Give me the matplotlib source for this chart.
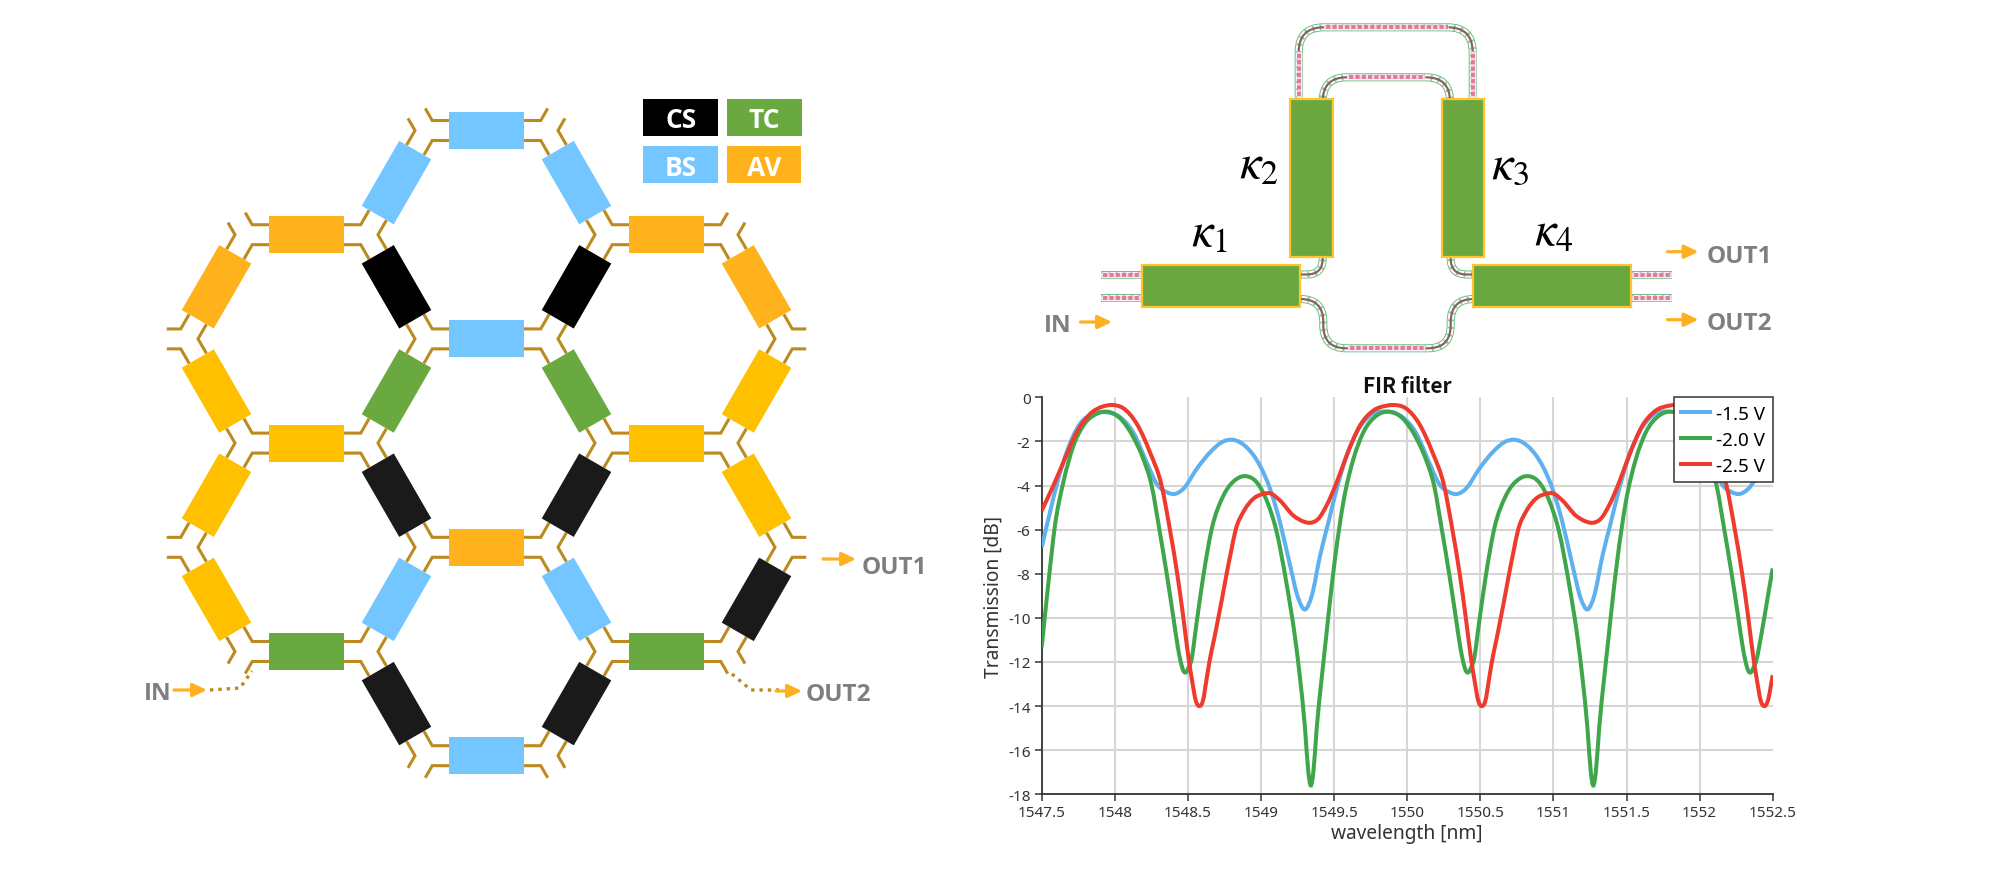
import numpy as np
import matplotlib
matplotlib.use("Agg")
import matplotlib.pyplot as plt
from matplotlib.lines import Line2D
from matplotlib.patches import Polygon, Rectangle, PathPatch
from matplotlib.path import Path

plt.rcParams["font.family"] = ["Noto Sans", "DejaVu Sans"]
plt.rcParams["axes.unicode_minus"] = False
plt.rcParams["mathtext.fontset"] = "stix"
BOLD_FONT = ["Open Sans", "Noto Sans CJK SC", "DejaVu Sans"]

# transmission curves: wavelength [nm], transmission [dB]
blue_wl = [1547.5, 1547.557, 1547.607, 1547.67, 1547.762, 1547.853, 1547.945, 1548.036, 1548.127, 1548.218,
           1548.287, 1548.355, 1548.412, 1548.469, 1548.56, 1548.651, 1548.743, 1548.811, 1548.902, 1548.993,
           1549.062, 1549.13, 1549.199, 1549.256, 1549.301, 1549.347, 1549.404, 1549.461, 1549.518, 1549.586,
           1549.655, 1549.746, 1549.86, 1549.968, 1550.059, 1550.15, 1550.219, 1550.287, 1550.344, 1550.401,
           1550.492, 1550.583, 1550.675, 1550.743, 1550.834, 1550.925, 1550.994, 1551.062, 1551.131, 1551.188,
           1551.233, 1551.279, 1551.336, 1551.393, 1551.45, 1551.518, 1551.587, 1551.678, 1551.792, 1551.9,
           1551.991, 1552.082, 1552.151, 1552.219, 1552.276, 1552.333, 1552.424, 1552.5]
blue_db = [-6.8, -5.2, -3.86, -2.5, -1.2, -0.76, -0.68, -0.9, -1.6, -2.95,
           -3.93, -4.3, -4.38, -4.15, -3.25, -2.5, -2.0, -1.93, -2.27, -3.1,
           -4.15, -5.67, -7.63, -9.14, -9.62, -9.0, -7.18, -5.67, -4.15, -2.64,
           -1.59, -0.83, -0.65, -0.9, -1.6, -2.95, -3.93, -4.3, -4.38, -4.15,
           -3.25, -2.5, -2.0, -1.93, -2.27, -3.1, -4.15, -5.67, -7.63, -9.14,
           -9.62, -9.0, -7.18, -5.67, -4.15, -2.64, -1.59, -0.83, -0.65, -0.9,
           -1.6, -2.95, -3.93, -4.3, -4.38, -4.15, -3.25, -2.6]

green_wl = [1547.5, 1547.546, 1547.591, 1547.648, 1547.717, 1547.785, 1547.876, 1547.945, 1548.036, 1548.127,
            1548.195, 1548.252, 1548.305, 1548.355, 1548.401, 1548.428, 1548.451, 1548.469, 1548.487, 1548.505,
            1548.521, 1548.56, 1548.606, 1548.663, 1548.743, 1548.834, 1548.902, 1548.97, 1549.039, 1549.107,
            1549.176, 1549.233, 1549.267, 1549.301, 1549.324, 1549.34, 1549.358, 1549.381, 1549.415, 1549.445,
            1549.461, 1549.506, 1549.563, 1549.632, 1549.7, 1549.791, 1549.871,
            1549.968, 1550.059, 1550.127, 1550.184, 1550.237, 1550.287, 1550.333, 1550.36, 1550.383, 1550.401,
            1550.419, 1550.437, 1550.453, 1550.492, 1550.538, 1550.595, 1550.675, 1550.766, 1550.834, 1550.902,
            1550.971, 1551.039, 1551.108, 1551.165, 1551.199, 1551.233, 1551.256, 1551.272, 1551.29, 1551.313,
            1551.347, 1551.377, 1551.393, 1551.438, 1551.495, 1551.564, 1551.632, 1551.723, 1551.803,
            1551.9, 1551.991, 1552.059, 1552.116, 1552.169, 1552.219, 1552.265, 1552.292, 1552.315, 1552.333,
            1552.351, 1552.369, 1552.385, 1552.424, 1552.47, 1552.5]
green_db = [-11.33, -8.4, -5.8, -3.85, -2.2, -1.28, -0.75, -0.65, -0.95, -1.81,
            -2.8, -4, -6, -8, -10, -11.2, -12, -12.4, -12.47, -12.25,
            -12, -10.2, -8.08, -5.97, -4.46, -3.7, -3.58, -3.85, -4.68, -6.1,
            -8.5, -10.9, -12.74, -15, -17, -17.6, -17, -15, -12.74, -10.9,
            -9.9, -7.33, -4.76, -2.8, -1.59, -0.83, -0.65,
            -0.95, -1.81, -2.8, -4, -6, -8, -10, -11.2, -12, -12.4,
            -12.47, -12.25, -12, -10.2, -8.08, -5.97, -4.46, -3.7, -3.58, -3.85,
            -4.68, -6.1, -8.5, -10.9, -12.74, -15, -17, -17.6, -17, -15,
            -12.74, -10.9, -9.9, -7.33, -4.76, -2.8, -1.59, -0.83, -0.65,
            -0.95, -1.81, -2.8, -4, -6, -8, -10, -11.2, -12, -12.4,
            -12.47, -12.25, -12, -10.7, -8.9, -7.76]

red_wl = [1547.5, 1547.58, 1547.648, 1547.739, 1547.83, 1547.922, 1547.979, 1548.059, 1548.15, 1548.241,
          1548.32, 1548.377, 1548.427, 1548.469, 1548.508, 1548.526, 1548.556, 1548.578, 1548.601, 1548.632,
          1548.647, 1548.678, 1548.708, 1548.737, 1548.765, 1548.795, 1548.827, 1548.879, 1548.948, 1549.016,
          1549.062, 1549.13, 1549.221, 1549.29, 1549.335, 1549.392, 1549.449, 1549.518, 1549.586, 1549.677,
          1549.769, 1549.86, 1549.905, 1549.991, 1550.082, 1550.173, 1550.252, 1550.309, 1550.359, 1550.401,
          1550.44, 1550.458, 1550.488, 1550.51, 1550.533, 1550.564, 1550.579, 1550.61, 1550.64, 1550.669,
          1550.697, 1550.727, 1550.759, 1550.811, 1550.88, 1550.948, 1550.994, 1551.062, 1551.153, 1551.222,
          1551.267, 1551.324, 1551.381, 1551.45, 1551.518, 1551.609, 1551.701, 1551.792, 1551.837, 1551.923,
          1552.014, 1552.105, 1552.184, 1552.241, 1552.291, 1552.333, 1552.372, 1552.39, 1552.42, 1552.442,
          1552.465, 1552.5]
red_db = [-5.14, -4, -2.95, -1.59, -0.76, -0.41, -0.35, -0.5, -1.2, -2.5,
          -4, -6, -8, -10, -12, -12.74, -13.8, -14, -13.8, -12.6,
          -12, -11, -10, -9, -8, -7, -6, -5.2, -4.6, -4.38,
          -4.35, -4.68, -5.36, -5.63, -5.69, -5.51, -4.9, -3.85, -2.64, -1.28,
          -0.6, -0.38, -0.35, -0.5, -1.2, -2.5, -4, -6, -8, -10,
          -12, -12.74, -13.8, -14, -13.8, -12.6, -12, -11, -10, -9,
          -8, -7, -6, -5.2, -4.6, -4.38, -4.35, -4.68, -5.36, -5.63,
          -5.69, -5.51, -4.9, -3.85, -2.64, -1.28, -0.6, -0.38, -0.35, -0.5,
          -1.2, -2.5, -4, -6, -8, -10, -12, -12.74, -13.8, -14,
          -13.8, -12.6]

series_labels = ["-1.5 V", "-2.0 V", "-2.5 V"]
x_ticks = [1547.5, 1548, 1548.5, 1549, 1549.5, 1550, 1550.5, 1551, 1551.5, 1552, 1552.5]
x_tick_labels = ["1547.5", "1548", "1548.5", "1549", "1549.5", "1550", "1550.5", "1551", "1551.5", "1552", "1552.5"]
y_ticks = [0, -2, -4, -6, -8, -10, -12, -14, -16, -18]

# hexagonal mesh: lattice column, lattice row and block type
horiz_blocks = [(0, 0, "BS"), (-2, 2, "AV"), (2, 2, "AV"), (0, 4, "BS"), (-2, 6, "Y"), (2, 6, "Y"),
                (0, 8, "AV"), (-2, 10, "TC"), (2, 10, "TC"), (0, 12, "BS")]
tilt_blocks = [(-1, 1, "BS"), (1, 1, "BS"), (-1, 3, "CS"), (1, 3, "CS"), (-3, 3, "AV"), (3, 3, "AV"),
               (-1, 5, "TC"), (1, 5, "TC"), (-3, 5, "Y"), (3, 5, "Y"), (-1, 7, "D"), (1, 7, "D"),
               (-3, 7, "Y"), (3, 7, "Y"), (-1, 9, "BS"), (1, 9, "BS"), (-3, 9, "Y"), (3, 9, "D"),
               (-1, 11, "D"), (1, 11, "D")]

colors = {"CS": "#000000", "D": "#1a1a1a", "TC": "#6aa93f", "BS": "#73c6ff", "AV": "#ffb21c", "Y": "#ffc000"}
LEAD = "#bc8a1f"
ARROW = "#ffb01f"
GRAY = "#7f7f7f"

fig = plt.figure(figsize=(19.96, 8.7), dpi=100, facecolor="white")
bg = fig.add_axes([0, 0, 1, 1])
bg.set_xlim(0, 1996)
bg.set_ylim(870, 0)
bg.axis("off")

X0, Y0, DX, DY = 486.5, 131.5, 30.0, 52.1
BLOCK_L, BLOCK_W = 75.0, 37.0


def px(n, r):
    return np.array([X0 + DX * n, Y0 + DY * r])


def draw_block(c, angle, color):
    a = np.radians(angle)
    u = np.array([np.cos(a), -np.sin(a)])
    v = np.array([np.sin(a), np.cos(a)])
    pts = [c + s * BLOCK_L / 2 * u + t * BLOCK_W / 2 * v for s, t in [(-1, -1), (1, -1), (1, 1), (-1, 1)]]
    bg.add_patch(Polygon(pts, closed=True, facecolor=color, edgecolor="none", zorder=3))


# nodes of the mesh, each with the directions of the blocks that reach it
nodes = {}
blocks = []
for k, r, kind in horiz_blocks:
    blocks.append((3 * k, r, 0, kind))
    for s in (-2, 2):
        nodes.setdefault((3 * k + s, r), []).append((3 * k, r))
for k, r, kind in tilt_blocks:
    angle = 60 if ((k + 1) // 2 + (r - 1) // 2) % 2 == 0 else -60
    blocks.append((3 * k, r, angle, kind))
    sgn = 1 if angle > 0 else -1
    for s in (-1, 1):
        nodes.setdefault((3 * k + s, r - s * sgn), []).append((3 * k, r))

for (n, r), arms in nodes.items():
    N = px(n, r)
    dirs = []
    for an, ar in arms:
        d = px(an, ar) - N
        dirs.append(d / np.hypot(*d))
    a0 = np.arctan2(dirs[0][1], dirs[0][0])
    full = [np.array([np.cos(a0 + i * 2 * np.pi / 3), np.sin(a0 + i * 2 * np.pi / 3)]) for i in range(3)]
    present = [any(np.dot(f, d) > 0.9 for d in dirs) for f in full]
    for i in range(3):
        j = (i + 1) % 3
        di, dj = full[i], full[j]
        if not present[i] and not present[j]:
            continue
        kink = N + 11.5 * (di + dj)
        pi = dj - np.dot(dj, di) * di
        pj = di - np.dot(di, dj) * dj
        end_i = N + 22.5 * di + 10 * pi / np.hypot(*pi) if present[i] else kink + 14 * di
        end_j = N + 22.5 * dj + 10 * pj / np.hypot(*pj) if present[j] else kink + 14 * dj
        bg.plot([end_i[0], kink[0], end_j[0]], [end_i[1], kink[1], end_j[1]], color=LEAD, lw=2.2,
                solid_joinstyle="miter", solid_capstyle="butt", zorder=2)

for n, r, angle, kind in blocks:
    draw_block(px(n, r), angle, colors[kind])

# key of block types
for x0, y0, name in [(643.5, 99.5, "CS"), (727.5, 99.5, "TC"), (643.5, 146.5, "BS"), (727.0, 146.5, "AV")]:
    bg.add_patch(Rectangle((x0, y0), 74.5, 37, facecolor=colors[name], edgecolor="none", zorder=3))
    bg.text(x0 + 37.2, y0 + 18.5, name, color="white", fontsize=19, fontweight="bold", family=BOLD_FONT,
            ha="center", va="center_baseline", zorder=4)


def arrow(x1, x2, y):
    bg.annotate("", xy=(x2, y), xytext=(x1, y),
                arrowprops=dict(arrowstyle="-|>,head_width=0.2,head_length=0.42", color=ARROW, lw=2.3,
                                mutation_scale=20, shrinkA=0, shrinkB=0), zorder=4)


def label(x, y, s):
    bg.text(x, y, s, color=GRAY, fontsize=17.5, fontweight="bold", family=BOLD_FONT, ha="left",
            va="center_baseline", zorder=4)


# mesh input and outputs
label(144, 691, "IN")
arrow(174, 207, 691)
bg.plot([210, 240, 252], [691, 689, 672], color=LEAD, lw=2.4, ls=(0, (1, 1.5)), zorder=2)
label(862, 565, "OUT1")
arrow(823, 856, 560)
bg.plot([732, 751, 779], [675, 691, 691], color=LEAD, lw=2.4, ls=(0, (1, 1.5)), zorder=2)
arrow(776, 802, 692)
label(806, 692, "OUT2")


# filter circuit
def wg_path(pts, rad):
    verts, codes = [pts[0]], [Path.MOVETO]
    for i in range(1, len(pts) - 1):
        p0, p1, p2 = np.array(pts[i - 1], float), np.array(pts[i], float), np.array(pts[i + 1], float)
        a = p1 + (p0 - p1) / np.hypot(*(p0 - p1)) * rad
        b = p1 + (p2 - p1) / np.hypot(*(p2 - p1)) * rad
        verts += [a, p1, b]
        codes += [Path.LINETO, Path.CURVE3, Path.CURVE3]
    verts.append(pts[-1])
    codes.append(Path.LINETO)
    return Path(verts, codes)


def stroke(path, color, width, **kw):
    bg.add_patch(PathPatch(path, facecolor="none", edgecolor=color, lw=width * 0.72, capstyle="butt", zorder=2, **kw))


def waveguide(pts, rad, straights):
    path = wg_path(pts, rad)
    stroke(path, "#62b878", 8.0)
    stroke(path, "white", 6.2)
    stroke(path, "#8fcba0", 6.2, linestyle=(0, (0.3, 0.9)))
    stroke(path, "#8a6060", 2.2)
    for s in straights:
        seg = Path(s)
        stroke(seg, "white", 5.4)
        stroke(seg, "#e5789f", 4.2)
        stroke(seg, "#f9dbe5", 4.2, linestyle=(0, (0.5, 1.0)))


waveguide([(1298.7, 98.7), (1298.7, 28.3), (1472.7, 28.3), (1472.7, 98.7)], 25,
          [[(1298.7, 98.7), (1298.7, 52)], [(1324, 28.3), (1448, 28.3)], [(1472.7, 98.7), (1472.7, 52)]])
waveguide([(1322.7, 98.7), (1322.7, 78.3), (1450, 78.3), (1450, 98.7)], 24,
          [[(1347, 78.3), (1425, 78.3)]])
waveguide([(1300, 300), (1323.3, 300), (1323.3, 349.3), (1450.7, 349.3), (1450.7, 300), (1473, 300)], 23,
          [[(1348, 349.3), (1425, 349.3)]])
waveguide([(1300, 275.5), (1322.7, 275.5), (1322.7, 258)], 16, [])
waveguide([(1473, 275.5), (1450.7, 275.5), (1450.7, 258)], 16, [])
for x1, x2 in [(1101, 1141), (1631.7, 1671.7)]:
    for y in (275.7, 299.3):
        waveguide([(x1, y), (x2, y)], 1, [[(x1, y), (x2, y)]])

for x, y, w, h in [(1290, 99.5, 43, 158.5), (1442, 99.5, 42, 158.5), (1142, 265.5, 158, 42.5), (1473, 265.5, 158, 42.5)]:
    bg.add_patch(Rectangle((x, y), w, h, facecolor="#6aa83f", edgecolor="#ffc42e", lw=1.6, zorder=3))

for x, y, s in [(1191, 258, r"$\kappa_1$"), (1239, 190, r"$\kappa_2$"), (1491, 190, r"$\kappa_3$"), (1534, 257, r"$\kappa_4$")]:
    bg.text(x, y, s, color="black", fontsize=35, ha="left", va="bottom", zorder=4)

label(1044, 323, "IN")
arrow(1080.5, 1112, 323)
arrow(1667.5, 1698.5, 252.7)
label(1707, 254, "OUT1")
arrow(1667.5, 1698.5, 320.7)
label(1707, 321, "OUT2")


# transmission plot, smooth curve through the read values
def curve(axis, xs, ys, color):
    xs, ys = np.array(xs, float), np.array(ys, float)
    slopes = np.gradient(ys, xs)
    verts, codes = [(xs[0], ys[0])], [Path.MOVETO]
    for i in range(len(xs) - 1):
        h = xs[i + 1] - xs[i]
        verts += [(xs[i] + h / 3, ys[i] + slopes[i] * h / 3),
                  (xs[i + 1] - h / 3, ys[i + 1] - slopes[i + 1] * h / 3),
                  (xs[i + 1], ys[i + 1])]
        codes += [Path.CURVE4, Path.CURVE4, Path.CURVE4]
    axis.add_patch(PathPatch(Path(verts, codes), facecolor="none", edgecolor=color, lw=2.9, zorder=3))
    return Line2D([], [], color=color, lw=2.9)


ax = fig.add_axes([1041.7 / 1996, (870 - 795.3) / 870, 731 / 1996, 397 / 870])
ax.set_facecolor("none")
h1 = curve(ax, blue_wl, blue_db, "#5fb0ee")
h2 = curve(ax, green_wl, green_db, "#3fa64c")
h3 = curve(ax, red_wl, red_db, "#ee3b2e")
ax.set_xlim(1547.5, 1552.5)
ax.set_ylim(-18, 0)
ax.set_xticks(x_ticks)
ax.set_xticklabels(x_tick_labels)
ax.set_yticks(y_ticks)
ax.grid(True, color="#d6d6d6", lw=1.5)
ax.set_axisbelow(True)
ax.get_xgridlines()[0].set_visible(False)
ax.get_xgridlines()[-1].set_visible(False)
ax.get_ygridlines()[0].set_visible(False)
ax.get_ygridlines()[-1].set_visible(False)
for side in ("top", "right"):
    ax.spines[side].set_visible(False)
for side in ("left", "bottom"):
    ax.spines[side].set_color("#333333")
    ax.spines[side].set_linewidth(1.3)
ax.tick_params(axis="both", direction="out", length=5, width=1.1, color="#333333", labelcolor="#333333",
               labelsize=11, pad=3)
ax.set_xlabel("wavelength [nm]", fontsize=13.8, color="#333333", labelpad=2)
ax.set_ylabel("Transmission [dB]", fontsize=13.8, color="#333333", labelpad=3)
ax.set_title("FIR filter", fontsize=15, fontweight="bold", family=["Noto Sans CJK SC", "DejaVu Sans"],
             color="#111111", pad=4)
leg = ax.legend([h1, h2, h3], series_labels, loc="upper right", bbox_to_anchor=(1.0, 1.0), borderaxespad=0,
                fontsize=13.6, frameon=True, framealpha=1, edgecolor="#333333", fancybox=False, handlelength=1.55,
                handletextpad=0.3, labelspacing=0.42, borderpad=0.4)
leg.get_frame().set_linewidth(1.1)

fig.savefig("out.png", dpi=100, facecolor="white")
